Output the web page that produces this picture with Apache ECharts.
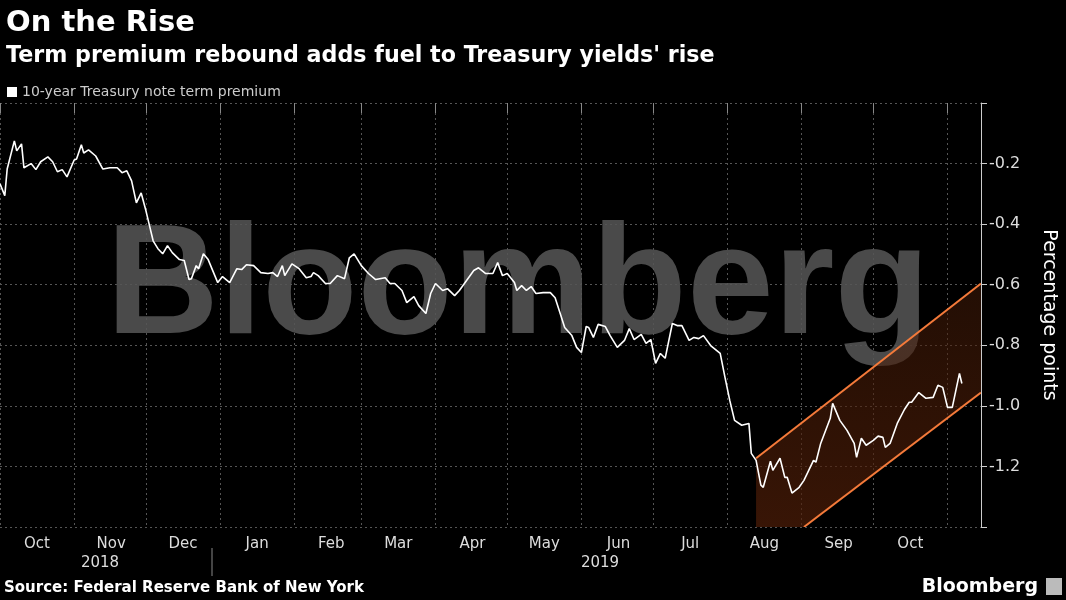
<!DOCTYPE html>
<html><head><meta charset="utf-8">
<script src="https://cdn.jsdelivr.net/npm/echarts@6/dist/echarts.min.js"></script>
<style>html,body{margin:0;padding:0;background:#000}#c{width:1066px;height:600px}</style>
</head><body><div id="c"></div>
<script>
// days since 2018-10-01
const days = [0,2,3,6,7,9,10,13,15,17,20,22,24,26,28,31,32,34,35,37,40,43,46,49,51,53,55,57,59,61,62,64,66,68,70,72,75,77,79,80,82,83,85,87,91,93,96,99,101,103,106,109,112,114,116,118,119,122,125,128,130,131,133,136,138,141,144,146,148,151,154,157,161,163,165,168,170,173,175,178,180,182,185,187,190,192,195,198,200,203,206,208,
210,212,215,216,218,220,222,224,227,230,232,234,236,239,241,243,245,246,248,250,253,255,258,261,263,265,268,270,272,274,276,278,281,283,285,288,290,292,294,297,301,303,305,307,310,313,314,316,318,319,322,323,326,328,329,331,334,336,338,340,341,343,347,348,351,354,357,358,360,362,365,367,369,370,372,375,378,380,381,384,387,390,392,394,396,398,401,402];
const premium = [-0.267,-0.306,-0.218,-0.125,-0.158,-0.135,-0.214,-0.2,-0.22,-0.194,-0.178,-0.194,-0.227,-0.22,-0.244,-0.188,-0.185,-0.138,-0.165,-0.155,-0.175,-0.218,-0.214,-0.214,-0.23,-0.224,-0.257,-0.33,-0.297,-0.356,-0.389,-0.455,-0.481,-0.498,-0.471,-0.494,-0.517,-0.52,-0.583,-0.58,-0.537,-0.547,-0.498,-0.517,-0.593,-0.573,-0.593,-0.547,-0.55,-0.534,-0.537,-0.56,-0.563,-0.56,-0.573,-0.537,-0.57,-0.531,-0.547,-0.577,-0.573,-0.56,-0.57,-0.596,-0.596,-0.57,-0.58,-0.511,-0.498,-0.537,-0.563,-0.583,-0.577,-0.596,-0.596,-0.619,-0.659,-0.639,-0.669,-0.695,-0.629,-0.596,-0.619,-0.613,-0.636,-0.619,-0.586,-0.553,-0.544,-0.563,-0.563,-0.527,
-0.57,-0.563,-0.593,-0.619,-0.603,-0.619,-0.606,-0.629,-0.626,-0.626,-0.643,-0.692,-0.741,-0.768,-0.807,-0.824,-0.738,-0.741,-0.774,-0.731,-0.738,-0.768,-0.807,-0.784,-0.745,-0.781,-0.764,-0.794,-0.781,-0.86,-0.827,-0.843,-0.728,-0.735,-0.735,-0.784,-0.774,-0.778,-0.768,-0.801,-0.827,-0.906,-0.982,-1.048,-1.064,-1.058,-1.157,-1.18,-1.262,-1.269,-1.183,-1.213,-1.173,-1.236,-1.236,-1.288,-1.269,-1.246,-1.213,-1.18,-1.186,-1.124,-1.041,-0.992,-1.048,-1.081,-1.124,-1.17,-1.107,-1.13,-1.114,-1.1,-1.104,-1.137,-1.124,-1.058,-1.012,-0.988,-0.988,-0.956,-0.975,-0.972,-0.932,-0.939,-1.005,-1.005,-0.893,-0.926];
// channel lines: [startDay, startVal, endDay, endVal]
const upperLine = [316, -1.173, 410, -0.596];
const lowerLine = [336, -1.4, 410, -0.956];
const yTicks = ['-0.2','-0.4','-0.6','-0.8','-1.0','-1.2'];
const months = ['Jan','Feb','Mar','Apr','May','Jun','Jul','Aug','Sep','Oct','Nov','Dec'];

const base = (d) => new Date(2018, 9, 1 + d).getTime();
const lineData = days.map((d, i) => [base(d), premium[i]]);
const yMin = -1.4, yMax = 0;

const chart = echarts.init(document.getElementById('c'));
chart.setOption({
  backgroundColor: '#000',
  animation: false,
  title: [
    {text: 'On the Rise', left: 1, top: 4, textStyle: {color: '#fff', fontSize: 29, fontWeight: 'bold', fontFamily: 'DejaVu Sans'}},
    {text: "Term premium rebound adds fuel to Treasury yields' rise", left: 1, top: 40, textStyle: {color: '#fff', fontSize: 22.2, fontWeight: 'bold', fontFamily: 'DejaVu Sans'}}
  ],
  legend: {show: true, left: 2, top: 80, itemWidth: 10, itemHeight: 10, icon: 'rect', itemGap: 4,
    textStyle: {color: '#ccc', fontSize: 14, fontFamily: 'DejaVu Sans'}, data: ['10-year Treasury note term premium']},
  grid: {left: 0, right: 81, top: 103, bottom: 73},
  xAxis: [{
    type: 'time', min: base(0), max: base(410),
    minInterval: 28 * 86400000, maxInterval: 31 * 86400000,
    axisLine: {show: false},
    axisTick: {show: true, length: 10, lineStyle: {color: '#888'}},
    splitLine: {show: true, lineStyle: {color: '#555', type: [2, 3]}},
    axisLabel: {
      color: '#ddd', fontSize: 15, fontFamily: 'DejaVu Sans', margin: 10,
      showMinLabel: true, showMaxLabel: false, padding: [0, 0, 0, 74],
      formatter: (v) => { const d = new Date(v); if (d.getFullYear() === 2019 && d.getMonth() === 10) return ''; return months[d.getMonth()]; }
    }
  }],
  yAxis: {
    type: 'value', position: 'right', min: yMin, max: yMax, interval: 0.2,
    axisLine: {show: true, lineStyle: {color: '#ccc'}},
    axisTick: {show: true, length: 6, lineStyle: {color: '#ccc'}},
    splitLine: {show: true, lineStyle: {color: '#555', type: [2, 3]}},
    axisLabel: {color: '#ddd', fontSize: 16, fontFamily: 'DejaVu Sans', margin: 8,
      formatter: (v) => { const s = v.toFixed(1); return yTicks.indexOf(s) >= 0 ? s : ''; }},
    name: 'Percentage points', nameLocation: 'middle', nameRotate: -90, nameGap: 58,
    nameTextStyle: {color: '#fff', fontSize: 19, fontFamily: 'DejaVu Sans'}
  },
  graphic: [
    {type: 'text', z: 0, zlevel: 0, silent: true, style: {text: 'Bloomberg', x: 518, y: 290, align: 'center', verticalAlign: 'middle',
      font: 'bold 156px "Liberation Sans"', fill: 'rgba(120,120,120,0.62)'}},
    {type: 'text', style: {text: '2018', x: 100, y: 563, align: 'center', verticalAlign: 'middle', font: '15px "DejaVu Sans"', fill: '#ddd'}},
    {type: 'text', style: {text: '2019', x: 600, y: 563, align: 'center', verticalAlign: 'middle', font: '15px "DejaVu Sans"', fill: '#ddd'}},
    {type: 'line', shape: {x1: 212, y1: 548, x2: 212, y2: 576}, style: {stroke: '#888', lineWidth: 1}},
    {type: 'text', style: {text: 'Source: Federal Reserve Bank of New York', x: 4, y: 588, verticalAlign: 'middle', font: 'bold 15px "DejaVu Sans"', fill: '#fff'}},
    {type: 'text', style: {text: 'Bloomberg', x: 1038, y: 587, align: 'right', verticalAlign: 'middle', font: 'bold 19px "DejaVu Sans"', fill: '#fff'}},
    {type: 'rect', shape: {x: 1046, y: 578, width: 16, height: 17}, style: {fill: '#bbb'}}
  ],
  series: [
    {
      type: 'custom', z: 1, silent: true, clip: true,
      data: [[0]],
      renderItem: (params, api) => {
        const u0 = api.coord([base(upperLine[0]), upperLine[1]]);
        const u1 = api.coord([base(upperLine[2]), upperLine[3]]);
        const l0 = api.coord([base(lowerLine[0]), lowerLine[1]]);
        const l1 = api.coord([base(lowerLine[2]), lowerLine[3]]);
        const b0 = api.coord([base(upperLine[0]), yMin]);
        return {type: 'group', children: [
          {type: 'polygon', shape: {points: [u0, u1, l1, l0, b0]},
            style: {fill: new echarts.graphic.LinearGradient(0, 0, 0, 1, [{offset: 0, color: 'rgba(70,28,8,0.5)'}, {offset: 1, color: 'rgba(80,30,8,0.7)'}])}},
          {type: 'line', shape: {x1: u0[0], y1: u0[1], x2: u1[0], y2: u1[1]}, style: {stroke: '#f47a3a', lineWidth: 2}},
          {type: 'line', shape: {x1: l0[0], y1: l0[1], x2: l1[0], y2: l1[1]}, style: {stroke: '#f47a3a', lineWidth: 2}}
        ]};
      }
    },
    {
      name: '10-year Treasury note term premium', type: 'line', z: 3, data: lineData,
      showSymbol: false, symbol: 'none', itemStyle: {color: '#fff'},
      lineStyle: {color: '#fff', width: 1.6}
    }
  ]
});
</script></body></html>
